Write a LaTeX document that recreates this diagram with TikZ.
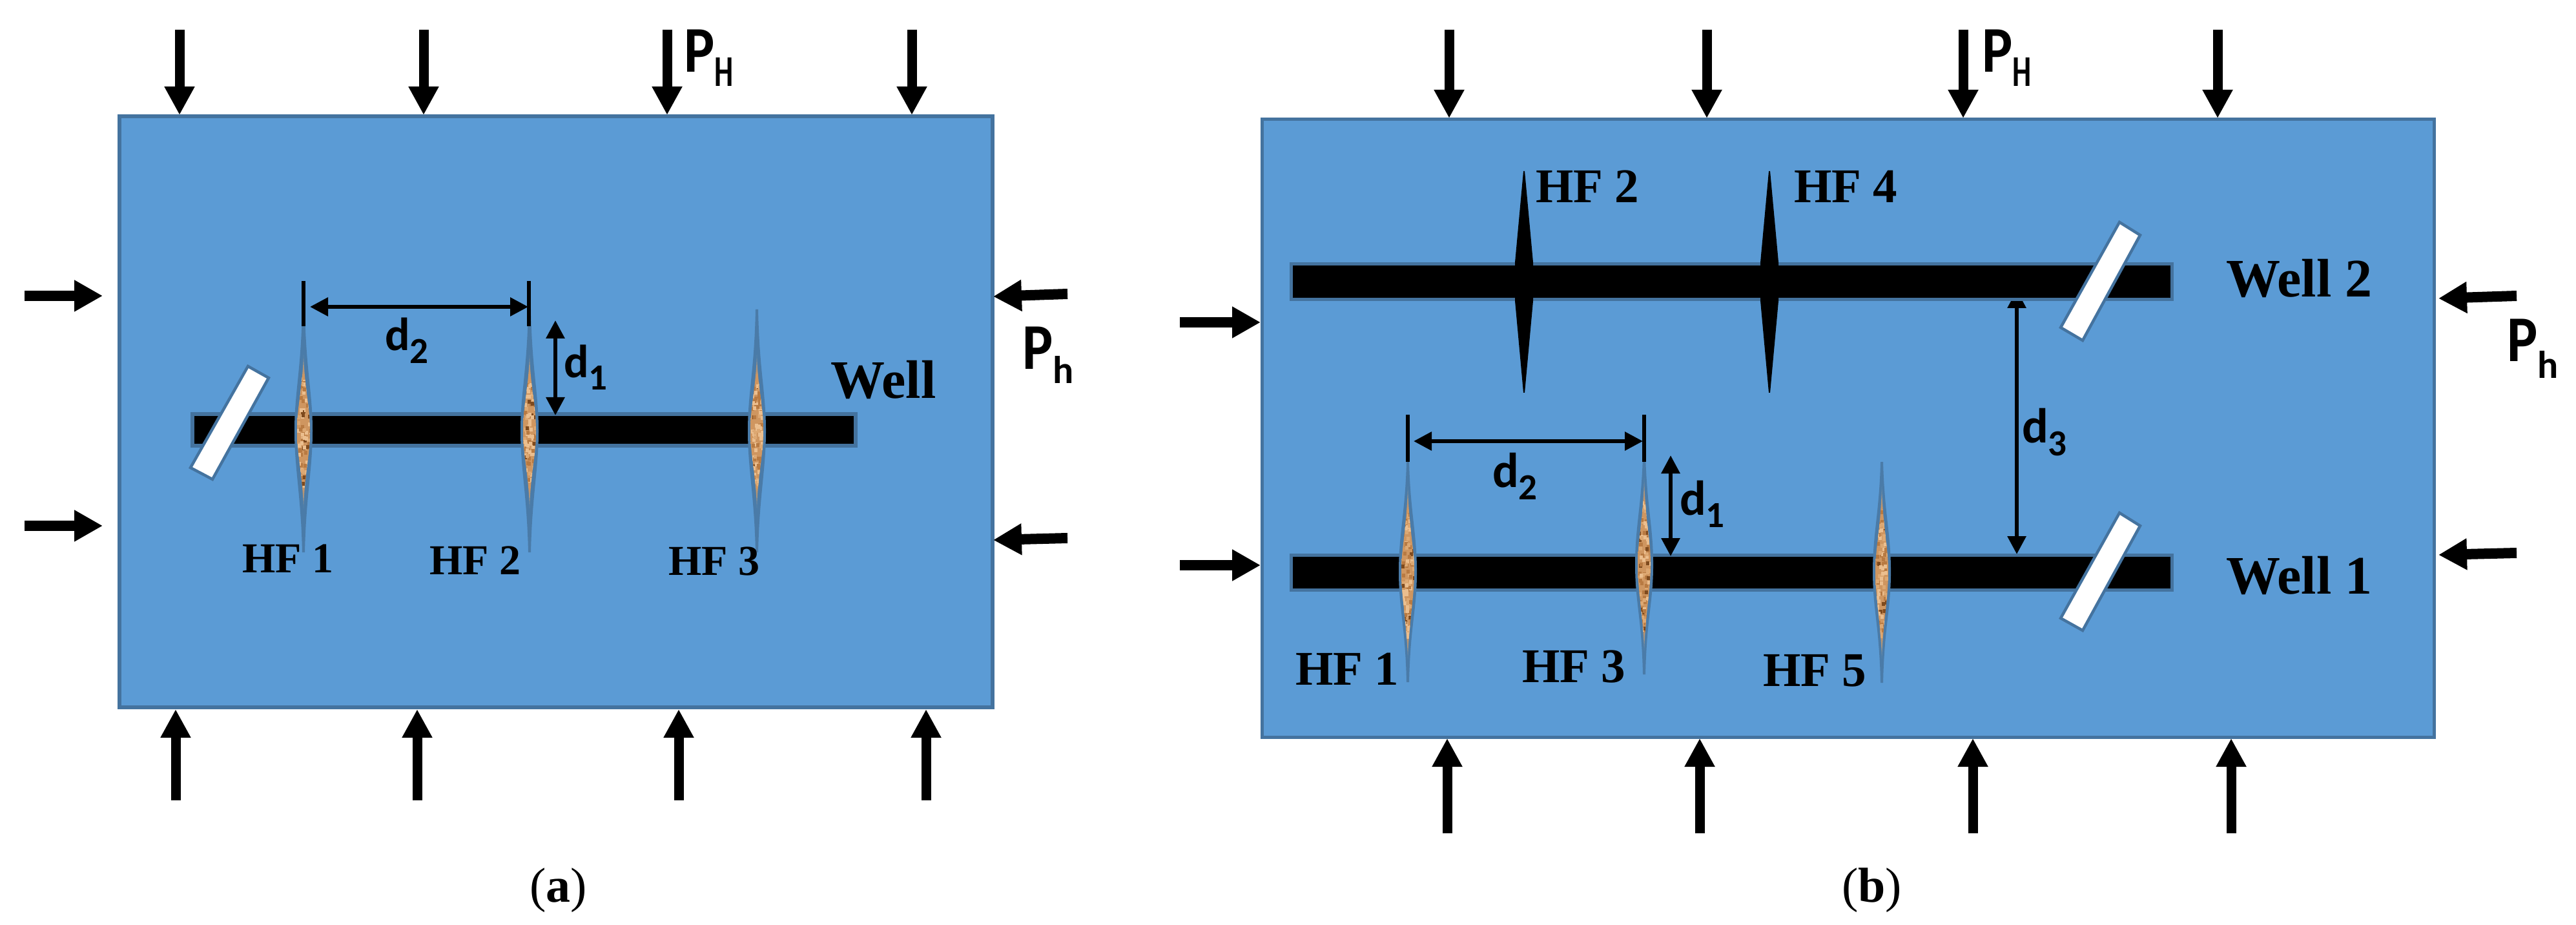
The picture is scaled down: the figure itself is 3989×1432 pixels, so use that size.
\documentclass[tikz,border=0pt]{standalone}
\usepackage{graphicx}
\usepackage{fontspec}
\setmainfont{Liberation Serif}
\newfontfamily\calfont{Carlito}
\usetikzlibrary{arrows.meta}
\definecolor{rock}{HTML}{5B9BD5}
\definecolor{rockedge}{HTML}{44739F}
\definecolor{lensedge}{HTML}{4A7BA8}
\definecolor{fadegrey}{HTML}{6F93B0}
\definecolor{sand}{HTML}{CF9660}
\definecolor{speckA}{HTML}{EBBE8E}
\definecolor{speckB}{HTML}{B87A42}
\definecolor{speckC}{HTML}{7E4A1E}
\definecolor{speckD}{HTML}{DDA872}
\pgfdeclareverticalshading{fracfill}{100bp}{color(0bp)=(fadegrey); color(25bp)=(fadegrey); color(32bp)=(sand); color(68bp)=(sand); color(75bp)=(fadegrey); color(100bp)=(fadegrey)}
\tikzset{
  rockbox/.style={fill=rock,draw=rockedge,line join=miter},
  pipe/.style={fill=black,draw=rockedge},
  valve/.style={fill=white,draw=rockedge,line width=1.1pt,line join=miter},
  vpush/.style={line width=3.75pt,-{Triangle[length=11pt,width=11pt]}},
  hpush/.style={line width=4pt,-{Triangle[length=11pt,width=11.5pt]}},
  dimline/.style={line width=1.5pt,{Triangle[length=7pt,width=7pt]}-{Triangle[length=7pt,width=7pt]}},
  ticker/.style={line width=1.5pt},
  txt/.style={inner sep=0pt,outer sep=0pt,anchor=base west},
  hfa/.style={txt,font=\fontsize{16.5pt}{18pt}\selectfont\bfseries},
  hfb/.style={txt,font=\fontsize{18.75pt}{20pt}\selectfont\bfseries},
  welltxt/.style={txt,font=\fontsize{21pt}{23pt}\selectfont\bfseries},
  captxt/.style={txt,font=\fontsize{19pt}{21pt}\selectfont},
  symtxt/.style={txt,font=\calfont\bfseries}
}
% symbol with a subscript: main, sub, main size, sub size, drop
\newcommand{\symb}[5]{\fontsize{#3}{#3}\selectfont #1\raisebox{-#5}{\fontsize{#4}{#4}\selectfont #2}}
\newcommand{\narrowP}{\scalebox{.88}[1]{P}}
\newcommand{\narrowH}{\scalebox{.68}[1]{H}}
% propped fracture: x, top, widest, bottom, brown top, brown bottom
\newcommand{\proplens}[6]{%
  \fill[lensedge] (#1-2,#2) .. controls (#1-4,#3-90) and (#1-14,#3-60) .. (#1-14,#3)
     .. controls (#1-14,#3+60) and (#1-4,#4-90) .. (#1-2,#4) -- (#1+2,#4)
     .. controls (#1+4,#4-90) and (#1+14,#3+60) .. (#1+14,#3)
     .. controls (#1+14,#3-60) and (#1+4,#3-90) .. (#1+2,#2) -- cycle;
  \begin{scope}
    \path[clip] (#1,#5) .. controls (#1-2,#3-60) and (#1-10,#3-40) .. (#1-10,#3)
     .. controls (#1-10,#3+40) and (#1-2,#6-60) .. (#1,#6)
     .. controls (#1+2,#6-60) and (#1+10,#3+40) .. (#1+10,#3)
     .. controls (#1+10,#3-40) and (#1+2,#3-60) .. (#1,#5) -- cycle;
    \path[shading=fracfill] (#1-10,#5) rectangle (#1+10,#6);
    \foreach \n in {1,...,110}{
      \pgfmathsetmacro{\xx}{#1-10+20*rnd}
      \pgfmathsetmacro{\yy}{#5+35+(#6-#5-70)*rnd}
      \pgfmathtruncatemacro{\cc}{int(rnd*10)}
      \ifnum\cc<4 \def\sc{speckA}\else\ifnum\cc<7 \def\sc{speckB}\else\ifnum\cc<9 \def\sc{speckD}\else\def\sc{speckC}\fi\fi\fi
      \fill[\sc] (\xx,\yy) rectangle (\xx+5,\yy+6);
    }
  \end{scope}}
% black fracture: x, top, mid, bottom
\newcommand{\blacklens}[4]{%
  \fill[black] (#1-1,#2) -- (#1-14,#3-30) -- (#1-14,#3+30) -- (#1-1,#4) -- (#1+1,#4)
     -- (#1+14,#3+30) -- (#1+14,#3-30) -- (#1+1,#2) -- cycle;}
\begin{document}
\begin{tikzpicture}[x=0.25pt,y=-0.25pt]
\pgfmathsetseed{4242}
\useasboundingbox (0,0) rectangle (3989,1432);
\fill[white] (0,0) rectangle (3989,1432);

%% ---------- panel (a)
\draw[rockbox,line width=1.6pt] (185,180) rectangle (1537,1095);
\foreach \x in {278,656,1033,1412} \draw[vpush] (\x,46) -- (\x,178);
\foreach \x in {272,646,1051,1434} \draw[vpush] (\x,1239) -- (\x,1098);
\draw[hpush] (38,458) -- (159,458);
\draw[hpush] (38,814) -- (159,814);
\draw[hpush] (1653,455) -- (1538,459);
\draw[hpush] (1653,833) -- (1538,836);

\draw[pipe,line width=1.5pt] (298,641) rectangle (1325,690);
\filldraw[valve] (384,567) -- (416,585) -- (329,742) -- (295,724) -- cycle;
\proplens{470}{479}{667}{855}{549}{787}
\proplens{820}{479}{667}{855}{549}{787}
\proplens{1172}{479}{667}{855}{549}{787}
\draw[ticker] (470,435) -- (470,505);
\draw[ticker] (819,435) -- (819,505);
\draw[dimline] (480,475) -- (818,475);
\draw[dimline] (860,496) -- (860,643);

\node[symtxt] (d2a) at (596,543) {\symb{d}{2}{18pt}{14.25pt}{5pt}};
\node[symtxt] (d1a) at (873,585) {\symb{d}{1}{18pt}{14.25pt}{4.75pt}};
\node[hfa] (hf1a) at (375,886) {HF 1};
\node[hfa] (hf2a) at (665,889) {HF 2};
\node[hfa] (hf3a) at (1035,890) {HF 3};
\node[welltxt] (wella) at (1286,616) {Well};
\node[symtxt] (pHa) at (1059,112) {\symb{\narrowP}{\narrowH}{25.25pt}{17pt}{5.5pt}};
\node[symtxt] (pha) at (1583,572) {\symb{\narrowP}{h}{25.25pt}{15pt}{5.5pt}};

%% ---------- panel (b)
\draw[rockbox,line width=1.25pt] (1954.5,185) rectangle (3769,1141);
\foreach \x in {2244,2643,3040,3434} \draw[vpush] (\x,46) -- (\x,183);
\foreach \x in {2241,2632,3055,3455} \draw[vpush] (\x,1290) -- (\x,1143);
\draw[hpush] (1827,499) -- (1952,499);
\draw[hpush] (1827,875) -- (1952,875);
\draw[hpush] (3897,458) -- (3776,462);
\draw[hpush] (3897,856) -- (3776,859);

\draw[dimline] (3123,449) -- (3123,858);
\draw[pipe,line width=1.25pt] (1999.5,409) rectangle (3363,463.5);
\draw[pipe,line width=1.25pt] (1999.5,859.5) rectangle (3363,913);
\blacklens{2360}{265}{436}{608}
\blacklens{2740}{265}{436}{608}
\filldraw[valve] (3282,344) -- (3314,364) -- (3225,527) -- (3191,507) -- cycle;
\filldraw[valve] (3282,794) -- (3314,814) -- (3225,976) -- (3191,957) -- cycle;
\proplens{2180}{715}{885}{1056}{752}{1020}
\proplens{2546}{703}{874}{1044}{740}{1008}
\proplens{2914}{715}{885}{1057}{752}{1020}
\draw[ticker] (2180,642) -- (2180,715);
\draw[ticker] (2546,642) -- (2546,715);
\draw[dimline] (2189,683) -- (2544,683);
\draw[dimline] (2587,705) -- (2587,861);

\node[symtxt] (d2b) at (2311,755) {\symb{d}{2}{19pt}{14.25pt}{4.75pt}};
\node[symtxt] (d1b) at (2601,797) {\symb{d}{1}{19pt}{14.25pt}{4.75pt}};
\node[symtxt] (d3b) at (3131,686) {\symb{d}{3}{19pt}{14.25pt}{5pt}};
\node[hfb] (hf1b) at (2006,1060) {HF 1};
\node[hfb] (hf3b) at (2357,1056) {HF 3};
\node[hfb] (hf5b) at (2730,1062) {HF 5};
\node[hfb] (hf2b) at (2378,314) {HF 2};
\node[hfb] (hf4b) at (2778,314) {HF 4};
\node[welltxt] (well2) at (3447,460) {Well 2};
\node[welltxt] (well1) at (3447,919) {Well 1};
\node[symtxt] (pHb) at (3069,112) {\symb{\narrowP}{\narrowH}{25.25pt}{17pt}{5.5pt}};
\node[symtxt] (phb) at (3882,560) {\symb{\narrowP}{h}{25.25pt}{15pt}{6.25pt}};

%% ---------- captions
\node[captxt] (capa) at (820,1396) {(\textbf{a})};
\node[captxt] (capb) at (2852,1396) {(\textbf{b})};
\end{tikzpicture}
\end{document}
